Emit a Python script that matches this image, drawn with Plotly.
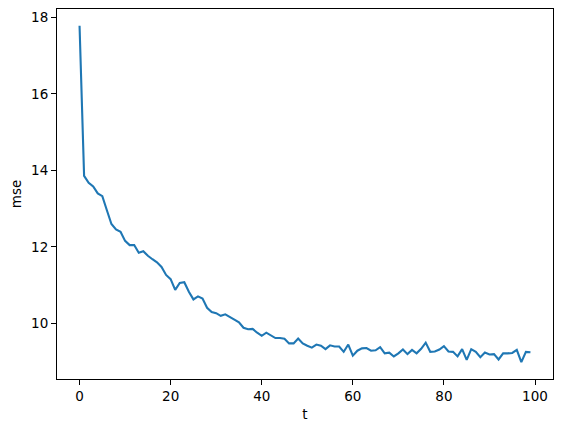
import plotly.graph_objects as go

# mse per step
t = list(range(100))
mse = [
    17.78, 13.86, 13.68, 13.58, 13.40, 13.33, 12.96, 12.60, 12.46, 12.40,
    12.16, 12.05, 12.05, 11.85, 11.89, 11.77, 11.68, 11.60, 11.48, 11.27,
    11.16, 10.88, 11.06, 11.08, 10.83, 10.63, 10.71, 10.65, 10.41, 10.30,
    10.27, 10.20, 10.24, 10.18, 10.10, 10.03, 9.89, 9.85, 9.86, 9.76,
    9.68, 9.76, 9.68, 9.62, 9.62, 9.60, 9.48, 9.48, 9.61, 9.48,
    9.42, 9.37, 9.45, 9.42, 9.33, 9.43, 9.40, 9.40, 9.26, 9.45,
    9.16, 9.29, 9.35, 9.36, 9.29, 9.30, 9.38, 9.22, 9.24, 9.14,
    9.22, 9.32, 9.20, 9.31, 9.22, 9.34, 9.50, 9.26, 9.27, 9.32,
    9.41, 9.27, 9.26, 9.14, 9.33, 9.05, 9.33, 9.26, 9.12, 9.24,
    9.19, 9.20, 9.06, 9.22, 9.22, 9.23, 9.31, 8.99, 9.26, 9.25,
]
x_ticks = [0, 20, 40, 60, 80, 100]
y_ticks = [10, 12, 14, 16, 18]

fig = go.Figure()
fig.add_trace(go.Scatter(x=t, y=mse, mode="lines",
                         line=dict(color="#1f77b4", width=2.1)))

axis_style = dict(showline=True, linecolor="black", linewidth=1, mirror=True,
                  showgrid=False, zeroline=False, ticks="outside", ticklen=5,
                  tickcolor="black", tickwidth=1, automargin=False,
                  tickfont=dict(size=13.5, color="black"))

fig.update_xaxes(range=[-4.95, 103.95], tickvals=x_ticks,
                 title=dict(text="t", font=dict(size=13.5, color="black"), standoff=6),
                 **axis_style)
fig.update_yaxes(range=[8.55, 18.22], tickvals=y_ticks,
                 title=dict(text="mse", font=dict(size=13.5, color="black"), standoff=10),
                 **axis_style)

# the page body adds an 8px offset, so margins are shifted to compensate
fig.update_layout(width=563, height=432, showlegend=False,
                  margin=dict(l=49, r=18, t=1, b=61),
                  paper_bgcolor="white", plot_bgcolor="white",
                  font=dict(family="DejaVu Sans", color="black"))

fig.write_html("out.html")
